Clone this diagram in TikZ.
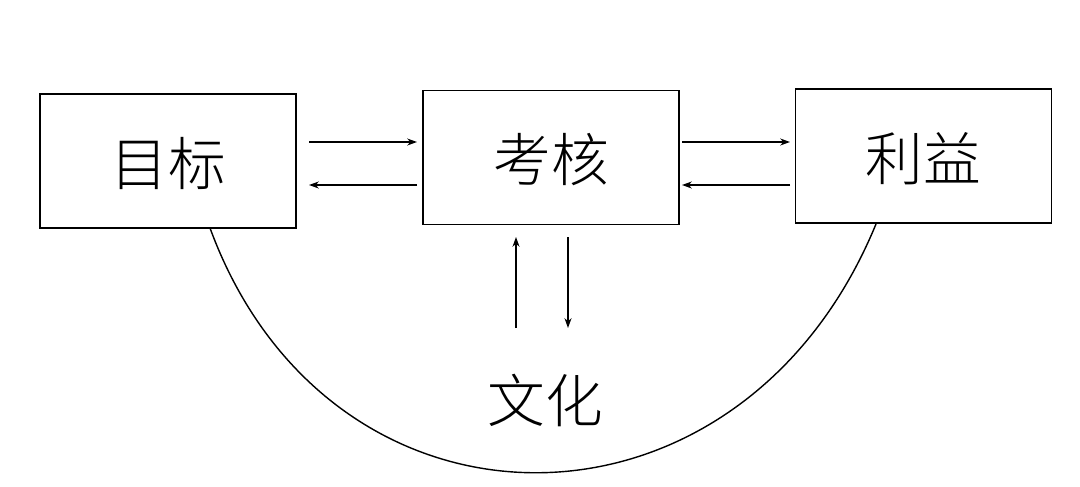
\documentclass[tikz,border=0pt]{standalone}
\usepackage{fontspec}
\newfontfamily\cjk{Noto Sans CJK SC Light}
\usetikzlibrary{arrows.meta}
\begin{document}
\begin{tikzpicture}[x=0.025cm,y=-0.025cm,
  box/.style={draw,line width=0.8pt,minimum width=6.4cm,minimum height=3.35cm,inner sep=0pt},
  lbl/.style={font=\cjk\fontsize{41}{43}\selectfont,text depth=0pt},
  arr/.style={-{Stealth[length=7pt,width=5pt]},line width=1pt}]
\useasboundingbox (0,0) rectangle (1080,487);
\node[box,lbl] (a) at (168,161) {目标};
\node[box,lbl] (b) at (551,157.5) {考核};
\node[box,lbl] (c) at (923.5,156) {利益};
\node[lbl] (d) at (545,398) {文化};
\coordinate (a1) at (309,142); \coordinate (b1) at (417,142);
\coordinate (a2) at (309,185); \coordinate (b2) at (417,185);
\coordinate (b3) at (682,142); \coordinate (c3) at (790,142);
\coordinate (b4) at (682,185); \coordinate (c4) at (790,185);
\coordinate (u1) at (516,328); \coordinate (u2) at (516,237);
\coordinate (v1) at (568,237); \coordinate (v2) at (568,328);
\draw[arr] (a1) -- (b1);
\draw[arr] (b2) -- (a2);
\draw[arr] (b3) -- (c3);
\draw[arr] (c4) -- (b4);
\draw[arr] (u1) -- (u2);
\draw[arr] (v1) -- (v2);
\coordinate (s) at (210,228); \coordinate (e) at (876,224);
\draw[line width=1pt] (s) .. controls (330,555) and (740,555) .. (e);
\end{tikzpicture}
\end{document}
